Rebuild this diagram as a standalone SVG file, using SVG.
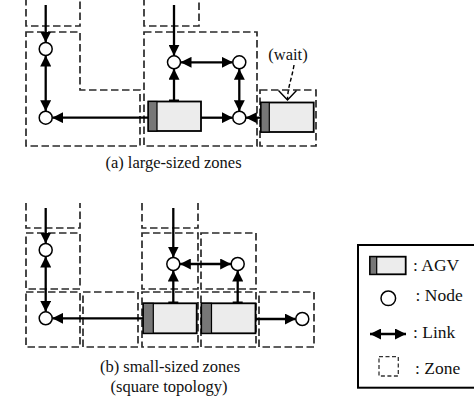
<svg xmlns="http://www.w3.org/2000/svg" width="474" height="419" viewBox="0 0 474 419">
<style>
.zone{fill:none;stroke:#2a2a2a;stroke-width:1.7;stroke-dasharray:7.5,3.5}
.node{fill:#fff;stroke:#000;stroke-width:1.5}
.link{fill:none;stroke:#000;stroke-width:2.3}
.agvb{fill:#ececec;stroke:#000;stroke-width:1.8}
.agvd{fill:#777;stroke:#000;stroke-width:1.2}
.bar{stroke:#000;stroke-width:3}
.t{font-family:"Liberation Serif","Times New Roman",serif;font-size:16.5px;fill:#111}
.lg{font-family:"Liberation Serif","Times New Roman",serif;font-size:17.5px;fill:#111}
</style>
<defs>
<marker id="ah" markerUnits="userSpaceOnUse" viewBox="0 0 10 10" refX="10" refY="5" markerWidth="11" markerHeight="11" orient="auto-start-reverse">
<path d="M0,0 L10,5 L0,10 z" fill="#000"/>
</marker>
</defs>
<rect width="474" height="419" fill="#fff"/>

<!-- zones (a) -->
<g id="zones-a">
<path class="zone" d="M26,-2 V26 H80 V-2"/>
<path class="zone" d="M144,-2 V26 H199 V-2"/>
<path class="zone" d="M26,32 H80 V90 H140 V146 H26 Z"/>
<rect class="zone" x="144" y="32" width="113" height="114"/>
<rect class="zone" x="260" y="90" width="56" height="56"/>
</g>

<!-- zones (b) -->
<g id="zones-b">
<path class="zone" d="M26,203 V228 H80 V203"/>
<path class="zone" d="M142,203 V228 H198 V203"/>
<rect class="zone" x="26" y="233" width="54" height="56"/>
<rect class="zone" x="142" y="233" width="56" height="56"/>
<rect class="zone" x="201" y="233" width="55" height="56"/>
<rect class="zone" x="26" y="292" width="54" height="55"/>
<rect class="zone" x="83" y="292" width="55" height="55"/>
<rect class="zone" x="142" y="292" width="56" height="55"/>
<rect class="zone" x="201" y="292" width="55" height="55"/>
<rect class="zone" x="259" y="292" width="55" height="55"/>
</g>

<!-- connectors -->
<g id="connectors">
<!-- (a) -->
<line class="link" x1="45.7" y1="5" x2="45.7" y2="42.5" marker-end="url(#ah)"/>
<line class="link" x1="45.7" y1="55.5" x2="45.7" y2="111.2" marker-start="url(#ah)" marker-end="url(#ah)"/>
<line class="link" x1="148" y1="117.7" x2="52.2" y2="117.7" marker-end="url(#ah)"/>
<line class="link" x1="174" y1="5" x2="174" y2="55.8" marker-end="url(#ah)"/>
<line class="link" x1="174" y1="101" x2="174" y2="68.8" marker-end="url(#ah)"/>
<line class="bar" x1="169" y1="101" x2="179" y2="101"/>
<line class="link" x1="180.5" y1="62.3" x2="232.8" y2="62.3" marker-start="url(#ah)" marker-end="url(#ah)"/>
<line class="link" x1="239.3" y1="68.8" x2="239.3" y2="111.2" marker-start="url(#ah)" marker-end="url(#ah)"/>
<line class="link" x1="201" y1="117.7" x2="232.8" y2="117.7" marker-end="url(#ah)"/>
<line class="link" x1="261" y1="117.7" x2="245.8" y2="117.7" marker-end="url(#ah)"/>
<path d="M294,65 C292,78 288,86 287.5,99" fill="none" stroke="#000" stroke-width="1.4" stroke-dasharray="4,2.5"/>
<path d="M278.5,90.5 L287.5,100 L296.5,90.5" fill="none" stroke="#000" stroke-width="1.4"/>
<!-- (b) -->
<line class="link" x1="45.7" y1="208" x2="45.7" y2="243.5" marker-end="url(#ah)"/>
<line class="link" x1="45.7" y1="256.5" x2="45.7" y2="311.8" marker-start="url(#ah)" marker-end="url(#ah)"/>
<line class="link" x1="143" y1="318.3" x2="52.2" y2="318.3" marker-end="url(#ah)"/>
<line class="link" x1="173.3" y1="208" x2="173.3" y2="257.5" marker-end="url(#ah)"/>
<line class="link" x1="173.3" y1="303" x2="173.3" y2="270.5" marker-end="url(#ah)"/>
<line class="bar" x1="168.3" y1="303" x2="178.3" y2="303"/>
<line class="link" x1="179.8" y1="264" x2="231.2" y2="264" marker-start="url(#ah)" marker-end="url(#ah)"/>
<line class="link" x1="237.7" y1="303" x2="237.7" y2="270.5" marker-end="url(#ah)"/>
<line class="bar" x1="232.7" y1="303" x2="242.7" y2="303"/>
<line class="link" x1="256" y1="319" x2="295.8" y2="319" marker-end="url(#ah)"/>
</g>

<!-- nodes (a) -->
<g id="node-a1"><circle class="node" cx="45.7" cy="49" r="6.5"/></g>
<g id="node-a2"><circle class="node" cx="45.7" cy="117.7" r="6.5"/></g>
<g id="node-a3"><circle class="node" cx="174" cy="62.3" r="6.5"/></g>
<g id="node-a4"><circle class="node" cx="239.3" cy="62.3" r="6.5"/></g>
<g id="node-a5"><circle class="node" cx="239.3" cy="117.7" r="6.5"/></g>
<g id="agv-a1"><rect class="agvb" x="148.3" y="101.5" width="52.7" height="29.5"/><rect class="agvd" x="148.3" y="101.5" width="8.7" height="29.5"/></g>
<g id="agv-a2"><rect class="agvb" x="261" y="102.5" width="52.7" height="29.5"/><rect class="agvd" x="261" y="102.5" width="8.3" height="29.5"/></g>
<g id="label-wait"><text class="t" x="288" y="59.5" text-anchor="middle">(wait)</text></g>
<g id="caption-a"><text class="t" x="173.5" y="168" text-anchor="middle">(a) large-sized zones</text></g>

<!-- nodes (b) -->
<g id="node-b1"><circle class="node" cx="45.7" cy="250" r="6.5"/></g>
<g id="node-b2"><circle class="node" cx="45.7" cy="318.3" r="6.5"/></g>
<g id="node-b3"><circle class="node" cx="173.3" cy="264" r="6.5"/></g>
<g id="node-b4"><circle class="node" cx="237.7" cy="264" r="6.5"/></g>
<g id="node-b5"><circle class="node" cx="302.3" cy="319" r="6.5"/></g>
<g id="agv-b1"><rect class="agvb" x="143.3" y="303.3" width="53.4" height="30"/><rect class="agvd" x="143.3" y="303.3" width="10" height="30"/></g>
<g id="agv-b2"><rect class="agvb" x="201.5" y="303.3" width="54" height="30"/><rect class="agvd" x="201.5" y="303.3" width="10" height="30"/></g>
<g id="caption-b">
<text class="t" x="170" y="372" text-anchor="middle">(b) small-sized zones</text>
<text class="t" x="169" y="392" text-anchor="middle">(square topology)</text>
</g>

<!-- legend -->
<g id="legend">
<rect x="358" y="245" width="117" height="142.7" fill="none" stroke="#000" stroke-width="2"/>
<rect class="agvb" x="370" y="256.7" width="35.7" height="17.6"/>
<rect class="agvd" x="370" y="256.7" width="6.7" height="17.6"/>
<text class="lg" x="413" y="271">: AGV</text>
<circle class="node" cx="388.3" cy="298.3" r="7.3"/>
<text class="lg" x="415.5" y="301">: Node</text>
<line class="link" x1="370" y1="334" x2="406" y2="334" marker-start="url(#ah)" marker-end="url(#ah)"/>
<text class="lg" x="413" y="338">: Link</text>
<rect x="379" y="356.7" width="19.3" height="19.3" fill="none" stroke="#333" stroke-width="1.3" stroke-dasharray="4,2.5"/>
<text class="lg" x="415" y="374">: Zone</text>
</g>
</svg>
